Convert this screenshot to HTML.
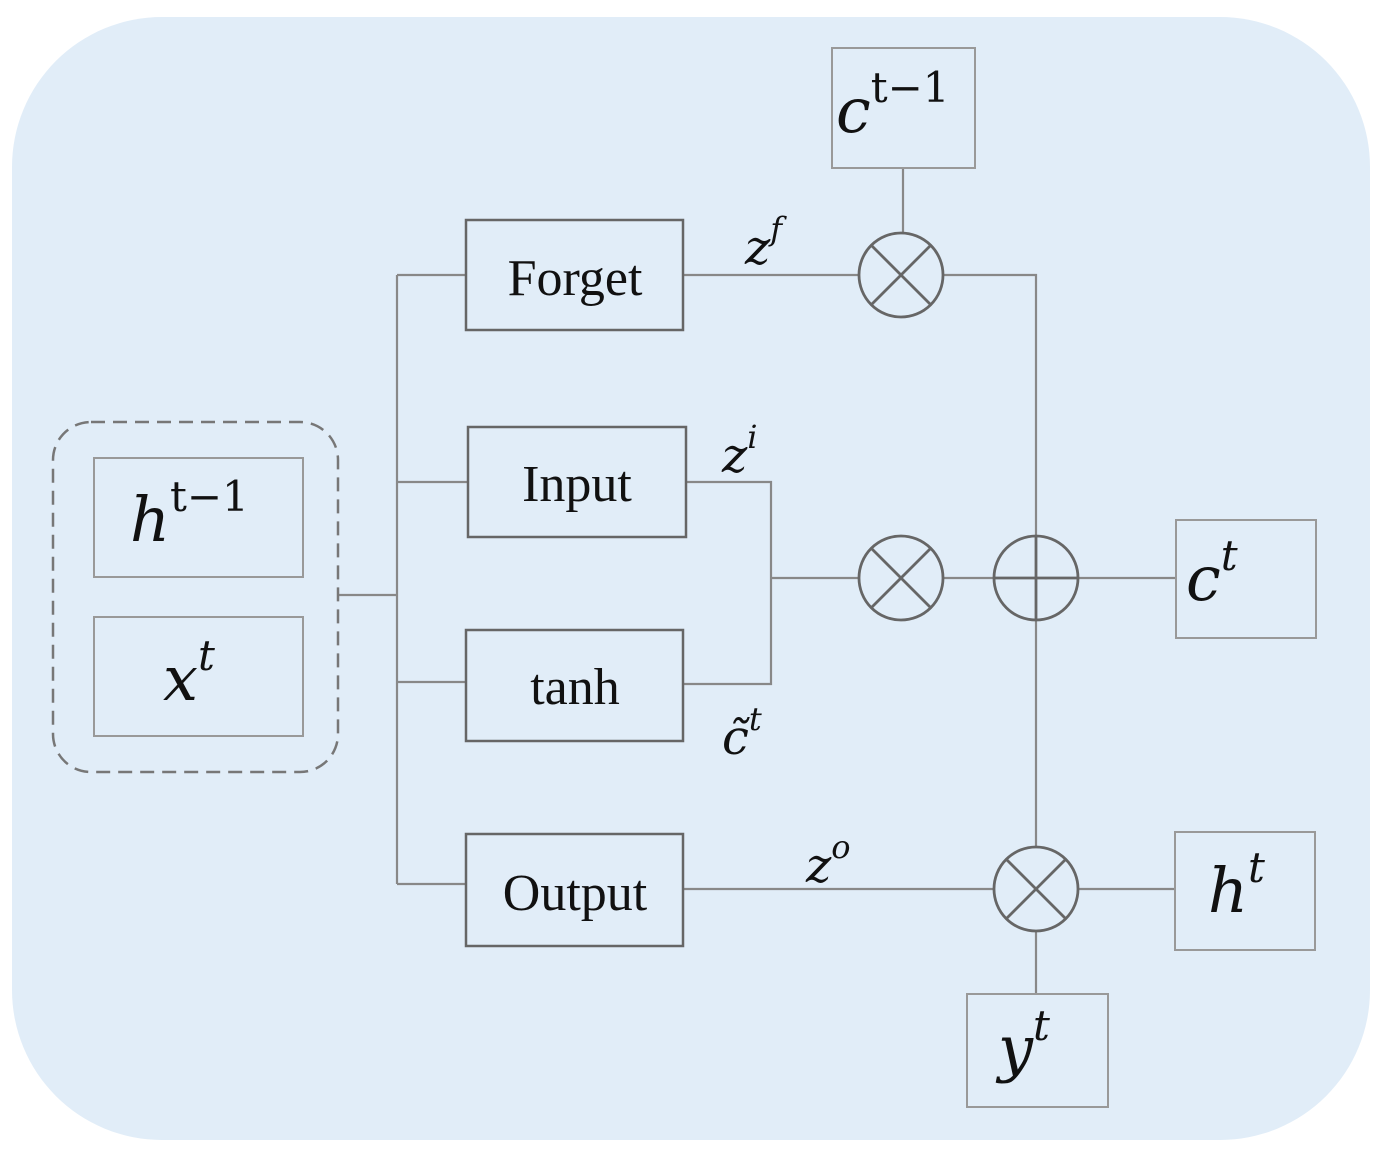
<!DOCTYPE html>
<html><head><meta charset="utf-8"><style>
html,body{margin:0;padding:0;background:#fff;}
svg{display:block;}
.b{fill:#e1edf8;stroke:#666;stroke-width:2.5;}
.bl{fill:#e1edf8;stroke:#999;stroke-width:2;}
.l{stroke:#888;stroke-width:2.2;fill:none;}
.c{fill:#e1edf8;stroke:#666;stroke-width:2.8;}
.t{font-family:"Liberation Serif",serif;font-size:52px;fill:#111;}
.m{font-family:"DejaVu Serif","Liberation Serif",serif;font-style:italic;fill:#111;}
</style></head><body>
<svg width="1386" height="1157" viewBox="0 0 1386 1157">
<rect x="12" y="17" width="1358" height="1123" rx="150" fill="#e1edf8"/>
<path class="l" d="M338 595H397M397 275V884M397 275H466M397 482H468M397 682H466M397 884H466"/>
<path class="l" d="M683 275H859M943 275H1036V994M686 482H771V684H683M771 578H859M943 578H994M1078 578H1176"/>
<path class="l" d="M903 168V234M683 889H994M1078 889H1175"/>
<circle class="c" cx="901" cy="275" r="42"/>
<path class="c" d="M871 245L931 305M931 245L871 305"/>
<circle class="c" cx="901" cy="578" r="42"/>
<path class="c" d="M871 548L931 608M931 548L871 608"/>
<circle class="c" cx="1036" cy="578" r="42"/>
<path class="c" d="M994 578H1078M1036 536V620"/>
<circle class="c" cx="1036" cy="889" r="42"/>
<path class="c" d="M1006 859L1066 919M1066 859L1006 919"/>
<rect x="53" y="422" width="285" height="350" rx="38" fill="none" stroke="#777" stroke-width="2.5" stroke-dasharray="14,8"/>
<rect class="bl" x="94" y="458" width="209" height="119"/>
<rect class="bl" x="94" y="617" width="209" height="119"/>
<rect class="b" x="466" y="220" width="217" height="110"/>
<rect class="b" x="468" y="427" width="218" height="110"/>
<rect class="b" x="466" y="630" width="217" height="111"/>
<rect class="b" x="466" y="834" width="217" height="112"/>
<text class="t" x="575" y="295" text-anchor="middle">Forget</text>
<text class="t" x="577" y="501" text-anchor="middle">Input</text>
<text class="t" x="575" y="704" text-anchor="middle">tanh</text>
<text class="t" x="575" y="910" text-anchor="middle">Output</text>
<rect class="bl" x="832" y="48" width="143" height="120"/>
<rect class="bl" x="1176" y="520" width="140" height="118"/>
<rect class="bl" x="1175" y="832" width="140" height="118"/>
<rect class="bl" x="967" y="994" width="141" height="113"/>
<text class="m" x="836" y="132" font-size="62">c<tspan font-size="42" dy="-30" font-style="normal">t−1</tspan></text>
<text class="m" x="1186" y="600" font-size="62">c<tspan font-size="42" dy="-30">t</tspan></text>
<text class="m" x="1208" y="912" font-size="62">h<tspan font-size="42" dy="-30">t</tspan></text>
<text class="m" x="998" y="1070" font-size="62">y<tspan font-size="42" dy="-30">t</tspan></text>
<text class="m" x="130" y="541" font-size="62">h<tspan font-size="42" dy="-30" font-style="normal">t−1</tspan></text>
<text class="m" x="163" y="700" font-size="62">x<tspan font-size="42" dy="-30">t</tspan></text>
<text class="m" x="745" y="264" font-size="48">z<tspan font-size="32" dy="-24">f</tspan></text>
<text class="m" x="722" y="472" font-size="48">z<tspan font-size="32" dy="-24">i</tspan></text>
<text class="m" x="722" y="754" font-size="48">c̃<tspan font-size="32" dy="-24">t</tspan></text>
<text class="m" x="806" y="882" font-size="48">z<tspan font-size="32" dy="-24">o</tspan></text>
</svg>
</body></html>
